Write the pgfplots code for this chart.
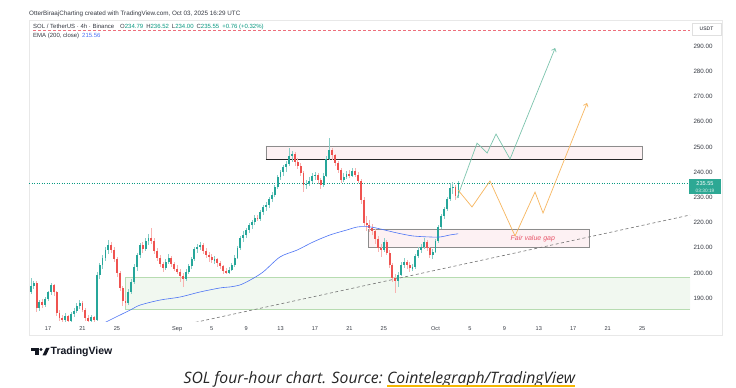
\documentclass[border=0pt]{standalone}
\usepackage{pgfplots}
\pgfplotsset{compat=1.18}
\usepackage{pgfplotstable}
\usepackage{fontspec}
\setmainfont{Liberation Sans}
\newfontfamily\capfont{Open Sans}
\usetikzlibrary{arrows.meta}
\definecolor{upc}{HTML}{26A69A}
\definecolor{dnc}{HTML}{EF5350}
\definecolor{tvtext}{HTML}{131722}
\definecolor{tvgreen}{HTML}{089981}
\definecolor{emablue}{HTML}{4D74F5}
\definecolor{boxpink}{HTML}{FDF1F3}
\definecolor{boxgreen}{HTML}{F1F8F0}
\definecolor{boxgreenline}{HTML}{B7DCB1}
\definecolor{projgreen}{HTML}{7CC4AD}
\definecolor{projorange}{HTML}{F7B65F}
\definecolor{fvgred}{HTML}{E8576B}
\definecolor{capline}{HTML}{F5B700}
\definecolor{topred}{HTML}{EE6F7C}

\pgfplotstableread{
t o h l c
15.00 192.5 198.0 191.8 195.0
15.33 195.0 197.0 193.5 196.0
15.67 196.0 196.8 184.6 186.2
16.00 186.2 189.5 185.0 188.5
16.33 188.5 189.8 186.0 187.2
16.67 187.2 190.5 186.5 189.6
17.00 189.6 193.0 188.8 192.3
17.33 192.3 196.2 191.5 195.1
17.67 195.1 195.8 191.0 192.4
18.00 192.4 193.0 183.0 184.0
18.33 184.0 185.5 181.0 182.2
18.67 182.2 183.5 180.0 181.5
19.00 181.5 184.0 180.5 182.8
19.33 182.8 183.2 179.5 181.0
19.67 181.0 184.5 180.2 183.6
20.00 183.6 186.0 182.5 184.8
20.33 184.8 188.0 184.0 186.9
20.67 186.9 189.5 185.8 188.3
21.00 188.3 188.8 184.5 185.5
21.33 185.5 186.0 181.0 182.0
21.67 182.0 183.2 179.5 181.0
22.00 181.0 183.5 180.0 182.6
22.33 182.6 183.0 179.8 181.2
22.67 181.2 200.5 180.8 199.4
23.00 199.4 204.0 197.5 203.2
23.33 203.2 207.0 201.5 206.0
23.67 206.0 210.5 204.8 209.2
24.00 209.2 213.3 207.5 211.0
24.33 211.0 212.5 207.8 209.0
24.67 209.0 210.5 204.5 205.6
25.00 205.6 206.5 198.5 200.0
25.33 200.0 201.0 193.0 194.2
25.67 194.2 195.0 187.0 189.0
26.00 189.0 190.5 186.8 188.2
26.33 188.2 193.5 187.5 192.6
26.67 192.6 197.5 191.8 196.4
27.00 196.4 203.5 195.8 202.3
27.33 202.3 208.0 201.0 207.1
27.67 207.1 212.0 206.0 211.0
28.00 211.0 212.5 208.0 209.5
28.33 209.5 213.8 208.8 212.6
28.67 212.6 215.5 211.2 214.0
29.00 214.0 218.0 211.5 212.8
29.33 212.8 213.8 207.5 208.6
29.67 208.6 210.0 204.8 205.8
30.00 205.8 207.0 202.5 203.6
30.33 203.6 204.5 200.5 202.0
30.67 202.0 205.5 201.2 204.4
31.00 204.4 207.5 203.5 206.0
31.33 206.0 206.8 202.5 203.6
31.67 203.6 204.5 200.8 201.8
32.00 201.8 203.0 199.8 200.6
32.33 200.6 201.5 196.5 198.8
32.67 198.8 200.0 194.5 197.6
33.00 197.6 201.5 196.8 200.4
33.33 200.4 203.5 199.5 202.6
33.67 202.6 206.5 201.8 205.5
34.00 205.5 210.5 204.8 209.4
34.33 209.4 211.5 208.0 210.2
34.67 210.2 212.3 209.0 211.0
35.00 211.0 211.8 207.5 208.8
35.33 208.8 210.0 205.8 207.0
35.67 207.0 208.2 204.5 206.2
36.00 206.2 207.5 203.8 205.0
36.33 205.0 206.8 203.5 205.4
36.67 205.4 206.0 202.5 203.8
37.00 203.8 204.8 201.5 202.6
37.33 202.6 203.2 199.8 201.0
37.67 201.0 202.0 199.5 200.2
38.00 200.2 202.5 199.6 201.4
38.33 201.4 204.0 200.8 203.2
38.67 203.2 207.0 202.5 206.1
39.00 206.1 210.8 205.5 210.0
39.33 210.0 214.8 209.2 214.0
39.67 214.0 216.5 212.5 215.2
40.00 215.2 218.0 213.8 217.2
40.33 217.2 220.0 216.0 219.0
40.67 219.0 221.2 217.5 220.2
41.00 220.2 223.0 219.0 222.0
41.33 222.0 223.2 220.5 221.6
41.67 221.6 225.0 220.8 224.2
42.00 224.2 226.8 223.0 226.0
42.33 226.0 228.0 224.5 227.0
42.67 227.0 230.0 225.8 229.2
43.00 229.2 232.0 228.0 231.0
43.33 231.0 235.0 230.2 234.2
43.67 234.2 239.0 233.5 238.2
44.00 238.2 241.0 236.8 240.2
44.33 240.2 243.0 238.5 242.0
44.67 242.0 244.5 240.0 243.2
45.00 243.2 249.6 242.5 246.4
45.33 246.4 248.5 244.2 247.2
45.67 247.2 248.0 242.5 244.0
46.00 244.0 245.5 241.2 242.6
46.33 242.6 243.5 238.5 239.8
46.67 239.8 240.5 232.1 235.0
47.00 235.0 237.0 233.2 235.4
47.33 235.4 238.0 234.5 236.6
47.67 236.6 239.5 235.5 238.4
48.00 238.4 240.2 236.8 239.0
48.33 239.0 239.8 235.2 236.8
48.67 236.8 237.5 233.5 234.8
49.00 234.8 239.5 234.0 238.6
49.33 238.6 246.5 238.0 245.4
49.67 245.4 253.5 244.8 248.6
50.00 248.6 249.5 245.0 246.6
50.33 246.6 247.2 242.5 243.6
50.67 243.6 244.5 239.5 240.8
51.00 240.8 241.5 235.5 237.0
51.33 237.0 239.5 236.0 238.2
51.67 238.2 240.5 237.2 239.2
52.00 239.2 240.8 237.5 238.6
52.33 238.6 241.5 238.0 240.4
52.67 240.4 241.8 238.0 239.0
53.00 239.0 240.0 235.5 236.6
53.33 236.6 237.2 227.5 229.0
53.67 229.0 230.0 218.5 220.0
54.00 220.0 222.5 216.5 219.2
54.33 219.2 221.0 216.2 218.0
54.67 218.0 219.5 215.0 216.6
55.00 216.6 217.5 211.5 213.4
55.33 213.4 214.5 208.5 210.0
55.67 210.0 211.5 206.5 209.0
56.00 209.0 214.0 208.2 212.4
56.33 212.4 213.2 207.0 208.0
56.67 208.0 209.0 202.0 203.2
57.00 203.2 204.0 196.5 198.0
57.33 198.0 199.5 192.1 196.8
57.67 196.8 200.5 194.5 199.4
58.00 199.4 204.2 198.8 203.2
58.33 203.2 206.0 202.0 204.2
58.67 204.2 205.0 201.5 203.0
59.00 203.0 204.5 200.5 202.0
59.33 202.0 203.5 200.8 202.4
59.67 202.4 207.5 201.8 206.6
60.00 206.6 210.2 205.8 209.2
60.33 209.2 211.5 208.0 210.4
60.67 210.4 214.0 209.5 212.2
61.00 212.2 213.0 208.8 209.8
61.33 209.8 210.5 206.0 207.2
61.67 207.2 209.5 205.5 208.4
62.00 208.4 213.5 207.8 212.6
62.33 212.6 219.2 212.0 218.4
62.67 218.4 223.5 217.5 222.6
63.00 222.6 226.2 221.5 225.4
63.33 225.4 230.0 224.5 229.2
63.67 229.2 235.5 228.5 233.8
64.00 233.8 236.0 231.5 234.2
64.33 234.2 234.8 229.0 230.4
64.67 230.4 236.5 229.8 235.55
}\candles

\begin{document}
\begin{tikzpicture}[x=1pt,y=1pt]
\fill[white] (0,0) rectangle (736,388);
\path[use as bounding box] (0,0) rectangle (736,388);
% outer frame
\draw[black!9, line width=0.5pt] (29,53) rectangle (722,368);

\begin{axis}[
  at={(29pt,66pt)}, anchor=south west,
  scale only axis, width=661pt, height=302pt,
  xmin=14.79, xmax=91.56, ymin=180.6, ymax=300.3,
  axis line style={draw=none},
  tick style={draw=none},
  xtick={17,21,25,32,36,40,44,48,52,56,62,66,70,74,78,82,86},
  xticklabels={17,21,25,Sep,5,9,13,17,21,25,Oct,5,9,13,17,21,25},
  ytick={190,200,...,290},
  yticklabel pos=right,
  /pgf/number format/assume math mode=true,
  yticklabel style={/pgf/number format/fixed, /pgf/number format/fixed zerofill, /pgf/number format/precision=2, font=\fontsize{6.2}{7}\selectfont, text=tvtext!85},
  xticklabel style={font=\fontsize{5.6}{7}\selectfont, text=tvtext!85, yshift=-1pt},
]
% demand zone (green)
\addplot[fill=boxgreen, draw=none] coordinates {(25.94,185.7) (91.56,185.7) (91.56,198.4) (25.94,198.4) (25.94,185.7)};
\addplot[color=boxgreenline, line width=0.8pt] coordinates {(25.94,198.4) (91.56,198.4)};
\addplot[color=boxgreenline, line width=0.8pt] coordinates {(25.94,185.7) (91.56,185.7)};
\addplot[color=boxgreenline, line width=0.8pt] coordinates {(25.94,185.7) (25.94,198.4)};
% resistance box
\addplot[fill=boxpink, draw=black!45, line width=0.7pt] coordinates {(42.3,245.2) (86.0,245.2) (86.0,250.4) (42.3,250.4) (42.3,245.2)};
\addplot[color=black!85, line width=0.9pt] coordinates {(42.3,245.2) (86.0,245.2)};
% fair value gap box
\addplot[fill=boxpink, draw=black!45, line width=0.7pt] coordinates {(54.2,210.3) (79.9,210.3) (79.9,217.5) (54.2,217.5) (54.2,210.3)};
\node[font=\itshape\fontsize{7}{8}\selectfont, text=fvgred] at (axis cs:73.3,213.5) {Fair value gap};
% top red dashed line
\addplot[color=topred, line width=0.7pt, dash pattern=on 3pt off 2pt] coordinates {(15.3,296.0) (91.56,296.0)};
% last price dotted line
\addplot[color=tvgreen, line width=0.7pt, dash pattern=on 1pt off 1.5pt] coordinates {(14.79,235.55) (91.56,235.55)};
% rising dashed trend line
\addplot[color=black!55, line width=0.6pt, dash pattern=on 3pt off 2.5pt] coordinates {(33.5,180.0) (91.56,223.0)};

% candles: wicks
\addplot[draw=none, mark=none, restrict expr to domain={\thisrow{c}-\thisrow{o}}{0:1000},
  error bars/.cd, y dir=both, y explicit, error mark=none,
  error bar style={draw=upc!55, line width=0.5pt}]
  table[x=t, y expr=(\thisrow{h}+\thisrow{l})/2, y error expr=(\thisrow{h}-\thisrow{l})/2] {\candles};
\addplot[draw=none, mark=none, restrict expr to domain={\thisrow{c}-\thisrow{o}}{-1000:-0.0001},
  error bars/.cd, y dir=both, y explicit, error mark=none,
  error bar style={draw=dnc!45, line width=0.5pt}]
  table[x=t, y expr=(\thisrow{h}+\thisrow{l})/2, y error expr=(\thisrow{h}-\thisrow{l})/2] {\candles};
% candles: bodies
\addplot[draw=none, mark=none, restrict expr to domain={\thisrow{c}-\thisrow{o}}{0:1000},
  error bars/.cd, y dir=both, y explicit, error mark=none,
  error bar style={draw=upc, line width=1.9pt}]
  table[x=t, y expr=(\thisrow{o}+\thisrow{c})/2, y error expr={max(abs(\thisrow{c}-\thisrow{o})/2,0.2)}] {\candles};
\addplot[draw=none, mark=none, restrict expr to domain={\thisrow{c}-\thisrow{o}}{-1000:-0.0001},
  error bars/.cd, y dir=both, y explicit, error mark=none,
  error bar style={draw=dnc, line width=1.9pt}]
  table[x=t, y expr=(\thisrow{o}+\thisrow{c})/2, y error expr={max(abs(\thisrow{c}-\thisrow{o})/2,0.2)}] {\candles};

% EMA 200
\addplot[color=emablue, line width=0.6pt, smooth] coordinates {
(22.8,178.5) (23.74,180.6) (26.52,185.3) (27.69,187.3) (30.01,189.3) (32.33,190.5) (34.65,192.5)
(36.98,194.1) (38.14,194.5) (39.30,195.3) (40.46,197.2) (41.97,200.4) (43.95,206.4) (45.92,209.1)
(47.78,212.3) (49.75,215.1) (51.73,217.1) (53.0,218.3) (54.4,218.3) (55.56,217.5) (57.53,215.9)
(59.39,214.7) (61.37,214.3) (62.53,214.3) (63.69,215.1) (64.62,215.56)};

% projections
\addplot[color=projgreen, line width=0.7pt, -{Straight Barb[length=3pt,width=5pt]}] coordinates {
(64.5,229.7) (66.83,251.5) (68.0,247.6) (69.03,255.1) (70.66,245.2) (75.9,289.2)};
\addplot[color=projorange, line width=0.7pt, -{Straight Barb[length=3pt,width=5pt]}] coordinates {
(64.62,232.9) (66.24,226.2) (68.33,236.5) (71.24,214.7) (73.56,232.1) (74.49,223.8) (79.6,267.4)};
\end{axis}

% header texts
\node[anchor=west, inner sep=0pt, font=\fontsize{6.3}{7}\selectfont, text=tvtext!85] at (29,374) {OtterBiraajCharting created with TradingView.com, Oct 03, 2025 16:29 UTC};
\node[anchor=west, inner sep=0pt, font=\fontsize{6}{7}\selectfont, text=tvtext!85] at (33,361) {SOL / TetherUS · 4h · Binance\quad O\textcolor{tvgreen}{234.79}\enspace H\textcolor{tvgreen}{236.52}\enspace L\textcolor{tvgreen}{234.00}\enspace C\textcolor{tvgreen}{235.55}\enspace\textcolor{tvgreen}{+0.76 (+0.32\%)}};
\node[anchor=west, inner sep=0pt, font=\fontsize{6}{7}\selectfont, text=tvtext!85] at (33,352) {EMA (200, close)\enspace\textcolor{emablue}{215.56}};

% USDT label
\draw[black!12, fill=white] (692,353) rectangle (721,365);
\node[font=\fontsize{5}{6}\selectfont, text=tvtext] at (706.5,359) {USDT};
% last price label
\fill[tvgreen!85] (689,194) rectangle (721,209);
\node[font=\fontsize{5.6}{6}\selectfont, text=white] at (705,204.5) {235.55};
\node[font=\fontsize{4.8}{6}\selectfont, text=white!85!tvgreen] at (705,197.5) {03:30:19};

% TradingView logo
\fill[tvtext] (31,40) rectangle (38.5,37);
\fill[tvtext] (35,40) rectangle (38.5,32.5);
\fill[tvtext] (41,38.5) circle (1.6);
\fill[tvtext] (42.5,32.5) -- (46,32.5) -- (49.5,40) -- (46,40) -- cycle;
\node[anchor=west, inner sep=0pt, font=\bfseries\fontsize{10.5}{12}\selectfont, text=tvtext] at (50.5,36.5) {TradingView};

% caption
\node[anchor=base east, inner sep=0pt, font=\capfont\itshape\fontsize{15.75}{18}\selectfont, text=black!85] at (383,5) {SOL four-hour chart. Source:};
\node[anchor=base west, inner sep=0pt, font=\capfont\itshape\fontsize{15.75}{18}\selectfont, text=black!85] (cap2) at (387,5) {Cointelegraph/TradingView};
\draw[capline, line width=1.2pt] ([yshift=-3pt]cap2.base west) -- ([yshift=-3pt]cap2.base east);
\end{tikzpicture}
\end{document}
